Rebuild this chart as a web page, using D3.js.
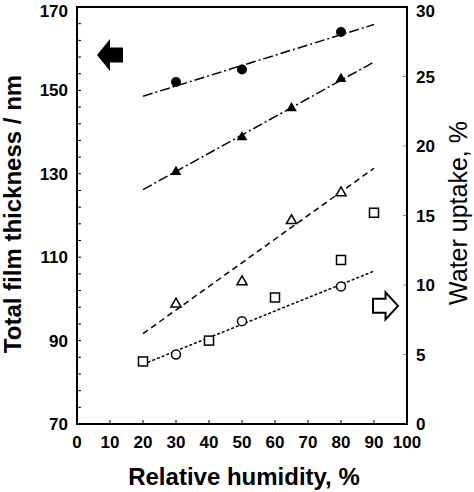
<!DOCTYPE html>
<html><head><meta charset="utf-8">
<script src="https://cdn.jsdelivr.net/npm/d3@7"></script>
<style>body{margin:0;background:#fff}svg{display:block}text{font-family:"Liberation Sans",Arial,sans-serif}</style>
</head><body>
<svg id="c" width="474" height="492"></svg>
<script>
// data
const xTicks = [0,10,20,30,40,50,60,70,80,90,100];
const leftTickLabels = [70,90,110,130,150,170];
const rightTickLabels = [0,5,10,15,20,25,30];

const fcX = [30,50,80];            // filled circles (thickness, left axis)
const fcY = [152,155,164];
const fcFitX = [20,90], fcFitY = [148.6,165.8];

const ftX = [30,50,65,80];         // filled triangles (thickness, left axis)
const ftY = [130.7,139,146,153];
const ftFitX = [20,90], ftFitY = [126.2,156.8];

const otX = [30,50,65,80];         // open triangles (water uptake, right axis)
const otY = [8.7,10.3,14.7,16.7];
const otFitX = [20,90], otFitY = [6.5,18.4];

const osX = [20,40,60,80,90];      // open squares (water uptake)
const osY = [4.5,6.0,9.1,11.8,15.2];

const ocX = [30,50,80];            // open circles (water uptake)
const ocY = [5.0,7.4,9.9];
const ocFitX = [20,90], ocFitY = [4.3,11.0];

const svg = d3.select("#c");
const L=77, R=407, T=7, B=424;
const x = d3.scaleLinear().domain([0,100]).range([L,R]);
const yL = d3.scaleLinear().domain([70,170]).range([B,T]);
const yR = d3.scaleLinear().domain([0,30]).range([B,T]);

// ticks
const g = svg.append("g");
g.selectAll(".xt").data(xTicks).enter().append("line")
 .attr("x1",d=>x(d)).attr("x2",d=>x(d)).attr("y1",B).attr("y2",B-4)
 .attr("stroke","#000").attr("stroke-width",1);
const lt = d3.range(70,170.1,4);
g.selectAll(".lt").data(lt).enter().append("line")
 .attr("x1",L).attr("x2",L+4).attr("y1",d=>yL(d)).attr("y2",d=>yL(d))
 .attr("stroke","#000").attr("stroke-width",1);
g.selectAll(".rt").data(rightTickLabels).enter().append("line")
 .attr("x1",R).attr("x2",R-4).attr("y1",d=>yR(d)).attr("y2",d=>yR(d))
 .attr("stroke","#888").attr("stroke-width",1);

// frame
svg.append("rect").attr("x",L).attr("y",T).attr("width",R-L).attr("height",B-T)
 .attr("fill","none").attr("stroke","#000").attr("stroke-width",2);

// tick labels
svg.selectAll(".xl").data(xTicks).enter().append("text")
 .attr("x",d=>x(d)).attr("y",448).attr("text-anchor","middle")
 .attr("font-size",17).attr("font-weight","bold").text(d=>d);
svg.selectAll(".ll").data(leftTickLabels).enter().append("text")
 .attr("x",68).attr("y",d=>Math.max(yL(d)+6,17)).attr("text-anchor","end")
 .attr("font-size",17).attr("font-weight","bold").text(d=>d);
svg.selectAll(".rl").data(rightTickLabels).enter().append("text")
 .attr("x",416).attr("y",d=>Math.max(yR(d)+6,17)).attr("text-anchor","start")
 .attr("font-size",17).attr("font-weight","bold").text(d=>d);

// titles
svg.append("text").attr("transform","translate(21,214) rotate(-90)")
 .attr("text-anchor","middle").attr("font-size",24).attr("font-weight","bold")
 .text("Total film thickness / nm");
svg.append("text").attr("transform","translate(467,213) rotate(-90)")
 .attr("text-anchor","middle").attr("font-size",25)
 .text("Water uptake, %");
svg.append("text").attr("x",244).attr("y",485)
 .attr("text-anchor","middle").attr("font-size",24).attr("font-weight","bold")
 .text("Relative humidity, %");

// fit lines
function fit(xs,ys,ys_scale,dash){
  const pts = xs.map((v,i)=>[x(v),ys_scale(ys[i])]);
  svg.append("path").attr("d",d3.line()(pts)).attr("fill","none")
   .attr("stroke","#000").attr("stroke-width",1.5).attr("stroke-dasharray",dash);
}
fit(fcFitX,fcFitY,yL,"10,3,2,3");
fit(ftFitX,ftFitY,yL,"10,3,2,3");
fit(otFitX,otFitY,yR,"6,4");
fit(ocFitX,ocFitY,yR,"3,2");

// markers
const tri = d3.symbol().type(d3.symbolTriangle);
svg.selectAll(".fc").data(fcX).enter().append("circle")
 .attr("cx",d=>x(d)).attr("cy",(d,i)=>yL(fcY[i])).attr("r",5).attr("fill","#000");
svg.selectAll(".ft").data(ftX).enter().append("path")
 .attr("d",tri.size(50)).attr("transform",(d,i)=>`translate(${x(d)},${yL(ftY[i])+1})`).attr("fill","#000");
svg.selectAll(".ot").data(otX).enter().append("path")
 .attr("d",tri.size(45)).attr("transform",(d,i)=>`translate(${x(d)},${yR(otY[i])+1})`)
 .attr("fill","#fff").attr("stroke","#000").attr("stroke-width",1.5);
svg.selectAll(".os").data(osX).enter().append("rect")
 .attr("x",d=>x(d)-4.5).attr("y",(d,i)=>yR(osY[i])-4.5).attr("width",9).attr("height",9)
 .attr("fill","#fff").attr("stroke","#000").attr("stroke-width",1.5);
svg.selectAll(".oc").data(ocX).enter().append("circle")
 .attr("cx",d=>x(d)).attr("cy",(d,i)=>yR(ocY[i])).attr("r",4.5)
 .attr("fill","#fff").attr("stroke","#000").attr("stroke-width",1.5);

// arrows
const ax = x(10), ay = yL(158.5);
svg.append("path").attr("d",`M${ax-13},${ay} L${ax},${ay-16} L${ax},${ay-7.5} L${ax+13},${ay-7.5} L${ax+13},${ay+7.5} L${ax},${ay+7.5} L${ax},${ay+16} Z`)
 .attr("fill","#000");
const bx = x(93.5), by = yR(8.5);
svg.append("path").attr("d",`M${bx+12.5},${by} L${bx},${by-13.5} L${bx},${by-7} L${bx-12.5},${by-7} L${bx-12.5},${by+7} L${bx},${by+7} L${bx},${by+13.5} Z`)
 .attr("fill","#fff").attr("stroke","#000").attr("stroke-width",2);
</script>
</body></html>
